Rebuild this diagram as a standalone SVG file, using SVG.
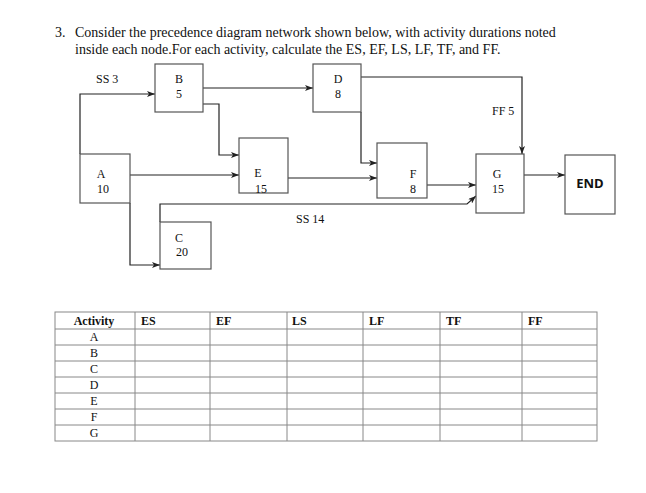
<svg xmlns="http://www.w3.org/2000/svg" width="646" height="493" viewBox="0 0 646 493">
<style>
text{font-family:"Liberation Serif",serif;font-size:12px;fill:#111}
.t{font-size:14px}
.n{fill:#fff;stroke:#555;stroke-width:1.2}
.c{fill:none;stroke:#222;stroke-width:1.2}
.g{fill:none;stroke:#888;stroke-width:1}
.b{font-weight:bold}
.m{text-anchor:middle}
</style>
<defs><marker id="a" markerWidth="8" markerHeight="6" refX="8" refY="3" orient="auto" markerUnits="userSpaceOnUse"><path d="M0,0L8,3L0,6L2,3z" fill="#222"/></marker></defs>
<rect width="646" height="493" fill="#fff"/>
<text class="t" x="55" y="37">3.</text>
<text class="t" x="75" y="37">Consider the precedence diagram network shown below, with activity durations noted</text>
<text class="t" x="75" y="54">inside each node.For each activity, calculate the ES, EF, LS, LF, TF, and FF.</text>
<g id="connectors" class="c">
<path d="M80,154V94H155" marker-end="url(#a)"/>
<path d="M203,88H313" marker-end="url(#a)"/>
<path d="M203,104H219V155H239" marker-end="url(#a)"/>
<path d="M130,175H239" marker-end="url(#a)"/>
<path d="M130,203V265H160" marker-end="url(#a)"/>
<path d="M160,222V204H467L476,196" marker-end="url(#a)"/>
<path d="M288,178H377" marker-end="url(#a)"/>
<path d="M361,112V163H377" marker-end="url(#a)"/>
<path d="M361,77H522V154" marker-end="url(#a)"/>
<path d="M427,185H476" marker-end="url(#a)"/>
<path d="M524,175H565" marker-end="url(#a)"/>
</g>
<text x="96" y="83">SS 3</text>
<text x="296" y="223">SS 14</text>
<text x="492" y="115">FF 5</text>
<g id="B"><rect class="n" x="155" y="64" width="48" height="48"/><text class="m" x="179" y="83">B</text><text class="m" x="179" y="98">5</text></g>
<g id="D"><rect class="n" x="313" y="64" width="48" height="48"/><text class="m" x="338" y="83">D</text><text class="m" x="338" y="98">8</text></g>
<g id="A"><rect class="n" x="80" y="154" width="50" height="49"/><text class="m" x="101" y="178">A</text><text class="m" x="103" y="193">10</text></g>
<g id="E"><rect class="n" x="239" y="138" width="49" height="55"/><text class="m" x="258" y="177">E</text><text class="m" x="261" y="193">15</text></g>
<g id="C"><rect class="n" x="160" y="222" width="51" height="47"/><text class="m" x="179" y="242">C</text><text class="m" x="182" y="256">20</text></g>
<g id="F"><rect class="n" x="377" y="143" width="50" height="55"/><text class="m" x="413" y="178">F</text><text class="m" x="413" y="193">8</text></g>
<g id="G"><rect class="n" x="476" y="154" width="48" height="59"/><text class="m" x="497" y="178">G</text><text class="m" x="498" y="193">15</text></g>
<g id="END"><rect class="n" x="565" y="155" width="50" height="59"/><text class="m b" x="590" y="188" style="font-family:'Open Sans','DejaVu Sans',sans-serif;font-size:13px">END</text></g>
<g id="table">
<rect class="g" x="55" y="312" width="542" height="129"/>
<path class="g" d="M55,329H597M55,345H597M55,361H597M55,377H597M55,393H597M55,409H597M55,425H597M135,312V441M210,312V441M287,312V441M363,312V441M440,312V441M522,312V441"/>
<g style="font-size:13px">
<text class="m b" x="94" y="325">Activity</text><text class="b" x="141" y="325">ES</text><text class="b" x="216" y="325">EF</text><text class="b" x="292" y="325">LS</text><text class="b" x="369" y="325">LF</text><text class="b" x="446" y="325">TF</text><text class="b" x="528" y="325">FF</text>
</g>
<g class="m"><text x="94" y="341">A</text><text x="94" y="357">B</text><text x="94" y="373">C</text><text x="94" y="389">D</text><text x="94" y="405">E</text><text x="94" y="421">F</text><text x="94" y="437">G</text></g>
</g>
</svg>
